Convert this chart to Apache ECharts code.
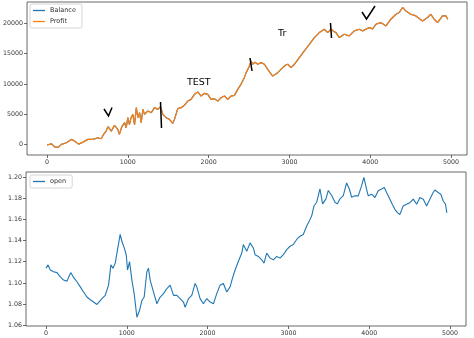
<!DOCTYPE html>
<html>
<head>
<meta charset="utf-8">
<script src="https://cdn.jsdelivr.net/npm/echarts@6/dist/echarts.min.js"></script>
<style>html,body{margin:0;padding:0;background:#fff;}#c{width:474px;height:338px;}</style>
</head>
<body>
<div id="c"></div>
<script>
// ---- data ----
const xTicks = [0, 1000, 2000, 3000, 4000, 5000];
const topYTicks = [0, 5000, 10000, 15000, 20000];
const bottomYTicks = [1.06, 1.08, 1.10, 1.12, 1.14, 1.16, 1.18, 1.20];

const profitX = [0,54,94,135,178,240,300,340,390,445,505,570,630,670,700,730,755,795,835,876,895,926,960,980,1000,1020,1040,1062,1083,1105,1125,1145,1165,1187,1207,1248,1290,1331,1372,1404,1433,1474,1515,1556,1577,1618,1660,1700,1742,1783,1824,1866,1907,1948,1990,2030,2071,2113,2154,2195,2236,2278,2319,2360,2400,2440,2464,2500,2525,2546,2575,2608,2650,2690,2731,2793,2855,2917,2950,2979,3020,3061,3122,3184,3246,3308,3370,3432,3473,3514,3545,3576,3617,3679,3740,3802,3864,3906,3988,4030,4070,4132,4194,4256,4318,4359,4400,4441,4503,4565,4648,4710,4750,4791,4833,4895,4936,4960];
const profit = [-100,100,-400,-500,0,280,830,550,50,380,830,830,1100,940,1650,2200,2930,2200,3150,2480,1650,2930,3590,2760,4420,3260,4420,4970,3260,6080,4420,5250,3590,5800,4970,5520,5250,6080,5800,6240,4970,4420,4140,3480,4140,5910,6080,6460,7170,7450,8280,8670,8000,8450,8280,7450,7560,7170,7720,8000,7450,8000,8110,9100,9940,11000,11870,12800,13800,13250,13600,13250,13530,13250,12420,11310,11870,12700,13100,13250,12700,13250,14350,15450,16560,17660,18490,19040,18490,19040,18700,18490,17660,18220,17940,18770,19040,18770,19320,19100,19870,20150,19600,20700,21530,21810,22640,22080,21530,21250,20420,20980,21530,20700,20150,21250,21250,20700];
// Balance coincides with Profit in the picture (orange drawn over blue)
const balance = profit.slice();

const openX = [0,25,53,94,136,177,218,260,292,309,341,383,424,465,507,548,589,630,651,692,733,774,803,828,857,885,918,939,968,993,1009,1034,1063,1091,1125,1157,1187,1215,1248,1268,1289,1330,1372,1413,1454,1496,1536,1578,1619,1660,1701,1722,1763,1804,1845,1866,1907,1948,1990,2031,2072,2113,2154,2195,2237,2278,2307,2340,2380,2423,2442,2484,2525,2566,2587,2628,2670,2698,2731,2773,2814,2855,2896,2937,2979,3020,3061,3102,3143,3184,3226,3259,3288,3317,3350,3390,3423,3465,3493,3535,3576,3605,3638,3679,3720,3753,3782,3823,3864,3906,3934,3967,3988,4030,4070,4111,4153,4186,4215,4256,4285,4318,4351,4380,4420,4462,4503,4545,4587,4627,4669,4710,4750,4791,4812,4853,4886,4915,4944,4960];
const open = [1.1139,1.117,1.1122,1.1106,1.1097,1.1058,1.1027,1.1017,1.1075,1.1097,1.1052,1.1011,1.0963,1.0915,1.0867,1.0842,1.082,1.0797,1.0806,1.0852,1.0883,1.0979,1.117,1.1139,1.1187,1.1314,1.1457,1.1393,1.133,1.1266,1.1122,1.1202,1.1027,1.0899,1.0676,1.074,1.0835,1.0867,1.1106,1.1139,1.1027,1.0915,1.0804,1.0867,1.0899,1.0947,1.0979,1.0883,1.0883,1.0852,1.082,1.0771,1.0852,1.0883,1.0995,1.0963,1.0852,1.0804,1.0852,1.082,1.0804,1.0899,1.0979,1.0995,1.0915,1.0963,1.1043,1.1122,1.1202,1.1282,1.1362,1.1298,1.1378,1.133,1.1266,1.125,1.1218,1.1186,1.1282,1.1234,1.1218,1.125,1.1234,1.1266,1.1314,1.1346,1.1362,1.141,1.1441,1.1457,1.1537,1.1585,1.1633,1.1728,1.1761,1.1888,1.1745,1.1793,1.1872,1.1824,1.1761,1.1745,1.1793,1.1824,1.1943,1.1888,1.1808,1.1821,1.1821,1.1917,1.1996,1.1885,1.1821,1.1837,1.1805,1.1869,1.1885,1.19,1.1853,1.179,1.1742,1.1694,1.1661,1.1646,1.1725,1.1742,1.1757,1.179,1.1742,1.1805,1.179,1.1725,1.179,1.1853,1.1876,1.1853,1.1837,1.1773,1.1742,1.1661];

const zip = (xs, ys) => xs.map((x, i) => [x, ys[i]]);

const FONT = 'DejaVu Sans';
const AX = '#444';
function xAxis(gi) {
  return {
    type: 'value', gridIndex: gi, min: -247.5, max: 5197.5, position: 'bottom',
    axisLine: { show: false, onZero: false }, splitLine: { show: false },
    axisTick: { show: true, length: 3, lineStyle: { color: AX, width: 0.8 }, customValues: xTicks },
    axisLabel: { fontSize: 6.3, color: '#333', fontFamily: FONT, margin: 4, customValues: xTicks, formatter: v => String(v) }
  };
}
function yAxis(gi, min, max, ticks, fmt) {
  return {
    type: 'value', gridIndex: gi, min: min, max: max, position: 'left',
    axisLine: { show: false, onZero: false }, splitLine: { show: false },
    axisTick: { show: true, length: 3, lineStyle: { color: AX, width: 0.8 }, customValues: ticks },
    axisLabel: { fontSize: 6.3, color: '#333', fontFamily: FONT, margin: 4, customValues: ticks, formatter: fmt }
  };
}

const black = { stroke: '#000', lineWidth: 1.5, fill: null };
const option = {
  animation: false,
  grid: [
    { left: 26, top: 2, right: 7, height: 153, show: true, borderColor: AX, borderWidth: 0.8, backgroundColor: 'transparent' },
    { left: 26, top: 172, right: 8, height: 154, show: true, borderColor: AX, borderWidth: 0.8, backgroundColor: 'transparent' }
  ],
  xAxis: [xAxis(0), xAxis(1)],
  yAxis: [
    yAxis(0, -1750, 23550, topYTicks, v => String(v)),
    yAxis(1, 1.0594, 1.2046, bottomYTicks, v => v.toFixed(2))
  ],
  legend: [
    { data: ['Balance', 'Profit'], orient: 'vertical', left: 30, top: 4, itemGap: 4, itemWidth: 12, itemHeight: 1.3, icon: 'rect',
      textStyle: { fontSize: 6.5, color: '#333', fontFamily: FONT, padding: [0, 0, 0, 0] },
      borderColor: '#ccc', borderWidth: 0.8, borderRadius: 2, padding: [3, 6, 3, 3], backgroundColor: '#fff' },
    { data: ['open'], orient: 'vertical', left: 30, top: 175, itemWidth: 12, itemHeight: 1.3, icon: 'rect',
      textStyle: { fontSize: 6.5, color: '#333', fontFamily: FONT, padding: [0, 0, 0, 0] },
      borderColor: '#ccc', borderWidth: 0.8, borderRadius: 2, padding: [3, 6, 3, 3], backgroundColor: '#fff' }
  ],
  series: [
    { name: 'Balance', type: 'line', xAxisIndex: 0, yAxisIndex: 0, data: zip(profitX, balance), showSymbol: false,
      lineStyle: { color: '#1f77b4', width: 1.2 }, itemStyle: { color: '#1f77b4' } },
    { name: 'Profit', type: 'line', xAxisIndex: 0, yAxisIndex: 0, data: zip(profitX, profit), showSymbol: false,
      lineStyle: { color: '#ff7f0e', width: 1.2 }, itemStyle: { color: '#ff7f0e' } },
    { name: 'open', type: 'line', xAxisIndex: 1, yAxisIndex: 1, data: zip(openX, open), showSymbol: false,
      lineStyle: { color: '#1f77b4', width: 1.1 }, itemStyle: { color: '#1f77b4' } }
  ],
  graphic: [
    { type: 'polyline', shape: { points: [[104, 109], [108.5, 116], [112, 107.5]] }, style: black, z: 100 },
    { type: 'polyline', shape: { points: [[160.5, 102], [161.5, 128]] }, style: black, z: 100 },
    { type: 'text', left: 187, top: 78, style: { text: 'TEST', fontSize: 9.5, fontFamily: FONT, fill: '#000' }, z: 100 },
    { type: 'polyline', shape: { points: [[250, 58], [252, 71]] }, style: black, z: 100 },
    { type: 'text', left: 278, top: 29, style: { text: 'Tr', fontSize: 9.5, fontFamily: FONT, fill: '#000' }, z: 100 },
    { type: 'polyline', shape: { points: [[330.5, 23], [331.5, 38]] }, style: black, z: 100 },
    { type: 'polyline', shape: { points: [[362, 12], [366.5, 19], [375, 6]] }, style: black, z: 100 }
  ]
};
const chart = echarts.init(document.getElementById('c'), null, { renderer: 'canvas' });
chart.setOption(option);
</script>
</body>
</html>
